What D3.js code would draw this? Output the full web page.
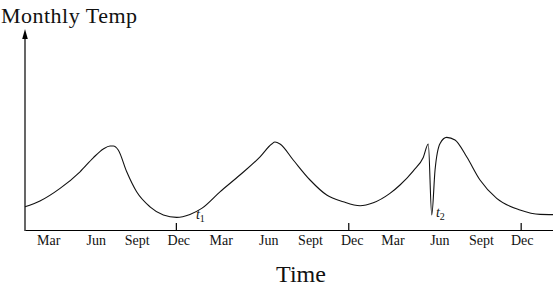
<!DOCTYPE html>
<html>
<head>
<meta charset="utf-8">
<script src="https://d3js.org/d3.v7.min.js"></script>
<style>
  body { margin: 0; background: #fff; }
  svg { display: block; font-family: "Liberation Serif", serif; }
</style>
</head>
<body>
<div id="chart"></div>
<script>
// months counted from Jan of year 1 (0 = Jan), temperature in arbitrary units
var tempMonths = [0.5, 1.54, 2.94, 4.33, 5.25, 5.95, 6.42, 6.65, 6.99, 7.58, 8.27, 9.2, 10.13, 11.06, 11.98, 12.8,
                  14.07, 15.46, 16.86, 17.67, 17.9, 18.25, 19.17, 20.34, 21.5, 22.65, 23.82, 24.74, 25.9, 26.6,
                  27.53, 28.22, 28.57, 28.81, 29.04, 29.39, 29.85, 30.43, 31.24, 32.17, 33.33, 34.95, 36.35, 37.25];
var tempValues = [11.6, 14.5, 20.8, 29.1, 36.1, 40.5, 42, 42, 40, 29.1, 19.1, 11.6, 7.5, 6.3, 7.8, 10.8,
                  19.1, 27.5, 36.6, 43, 44, 43, 35, 25, 17.5, 14.1, 12.1, 13.6, 18.3, 22.5,
                  29.6, 36.3, 43, 7.5, 30, 43.3, 46.3, 45, 36.6, 25, 15.8, 10, 7.8, 7.7];

var monthLabels = ["Mar", "Jun", "Sept", "Dec", "Mar", "Jun", "Sept", "Dec", "Mar", "Jun", "Sept", "Dec"];
var labelMonths = [2.12, 5.42, 8.27, 11.17, 14.12, 17.43, 20.34, 23.24, 26.07, 29.34, 32.24, 35.07];
var tickMonths = [11, 23, 35];

var markers = ["1", "2"];
var markerMonths = [12.4, 29.1];
var markerValues = [5.6, 6.5];

window.onload = function() {
  var width = 553, height = 290;

  var svg = d3.select("#chart").append("svg")
              .attr("width", width)
              .attr("height", height);

  var x = d3.scaleLinear().domain([0.5, 37.25]).range([25, 553]);
  var y = d3.scaleLinear().domain([0, 100]).range([230, 30]);

  // x axis line + Dec ticks pointing up
  var tickAxis = svg.append("g")
     .attr("transform", "translate(0," + y(0) + ")")
     .call(d3.axisTop(x).tickValues(tickMonths).tickSize(7).tickSizeOuter(0).tickFormat(""));
  tickAxis.selectAll("path, line").attr("stroke", "#000").attr("stroke-width", 1.2);

  // month labels
  var labelAxis = svg.append("g")
     .attr("transform", "translate(0," + y(0) + ")")
     .call(d3.axisBottom(x).tickValues(labelMonths).tickSize(0).tickPadding(5)
             .tickFormat(function(d, i) { return monthLabels[i]; }));
  labelAxis.select(".domain").remove();
  labelAxis.selectAll("text")
     .attr("font-family", "Liberation Serif, serif")
     .attr("font-size", 14)
     .attr("fill", "#111");

  // y axis with arrow
  svg.append("line")
     .attr("x1", x(0.5)).attr("x2", x(0.5))
     .attr("y1", y(0) + 1).attr("y2", y(96))
     .attr("stroke", "#000").attr("stroke-width", 1.2);
  svg.append("path")
     .attr("d", "M" + x(0.5) + "," + (y(100) - 1) +
                "L" + (x(0.5) - 2.8) + "," + (y(95.5)) +
                "L" + (x(0.5) + 2.8) + "," + (y(95.5)) + "Z")
     .attr("fill", "#000");

  // curve
  var line = d3.line()
     .x(function(d, i) { return x(tempMonths[i]); })
     .y(function(d) { return y(d); })
     .curve(d3.curveMonotoneX);

  svg.append("path")
     .datum(tempValues)
     .attr("d", line)
     .attr("fill", "none")
     .attr("stroke", "#111")
     .attr("stroke-width", 1.1);

  // t1, t2 markers
  var mk = svg.selectAll(".mk").data(markers).enter().append("text")
     .attr("class", "mk")
     .attr("x", function(d, i) { return x(markerMonths[i]); })
     .attr("y", function(d, i) { return y(markerValues[i]); })
     .attr("font-size", 14)
     .attr("fill", "#111");
  mk.append("tspan").attr("font-style", "italic").text("t");
  mk.append("tspan").attr("font-size", 10).attr("dy", 3).text(function(d) { return d; });

  // titles
  svg.append("text")
     .attr("x", 1).attr("y", 23)
     .attr("font-size", 22)
     .attr("textLength", 136)
     .attr("fill", "#111")
     .text("Monthly Temp");

  svg.append("text")
     .attr("x", 301).attr("y", 282)
     .attr("text-anchor", "middle")
     .attr("font-size", 24)
     .attr("fill", "#111")
     .text("Time");
};
</script>
</body>
</html>
